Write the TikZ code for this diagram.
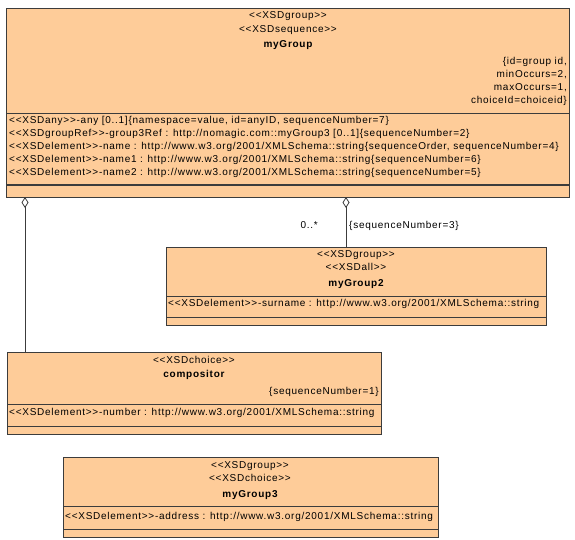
\documentclass[tikz,border=0pt]{standalone}
\usepackage{fontspec}
\setmainfont{Liberation Sans}[LetterSpace=7.4, Ligatures=TeXOff]
\usetikzlibrary{arrows.meta}
\definecolor{boxfill}{RGB}{254,204,153}
\definecolor{linec}{RGB}{60,60,60}
\begin{document}
\begin{tikzpicture}[x=1pt,y=-1pt,
  box/.style={draw=linec, fill=boxfill, line width=0.8pt, inner sep=0pt, outer sep=0pt, anchor=north west},
  sep/.style={draw=linec, line width=0.8pt},
  thicksep/.style={draw=linec, line width=1.8pt},
  txt/.style={inner sep=0pt, text height=7.2pt, text depth=2pt, font=\fontsize{10}{12}\selectfont},
  lt/.style={txt, anchor=west},
  rt/.style={txt, anchor=east},
  ct/.style={txt, anchor=center},
  ttl/.style={txt, anchor=center, font=\fontsize{10}{12}\selectfont\bfseries},
  agg/.style={draw=linec, line width=0.8pt, {Diamond[open, length=11pt, width=7pt]}-}
]
\useasboundingbox (0,0) rectangle (575,539);

% ---------- myGroup ----------
\node[box, minimum width=563pt, minimum height=189pt] (g1) at (6,8) {};
\draw[sep] (g1.west |- 0,113) -- (g1.east |- 0,113);
\draw[thicksep] (g1.west |- 0,185) -- (g1.east |- 0,185);
\node[ct] (g1s1) at (288,16) {<<XSDgroup>>};
\node[ct] (g1s2) at (288,30) {<<XSDsequence>>};
\node[ttl] (g1t) at (288,45) {myGroup};
\node[rt] (g1p1) at (567,62) {\{id=group id,};
\node[rt] (g1p2) at (567,75) {minOccurs=2,};
\node[rt] (g1p3) at (567,88) {maxOccurs=1,};
\node[rt] (g1p4) at (567,101) {choiceId=choiceid\}};
\node[lt] (g1a1) at (9,121) {<<XSDany>>-any [0..1]\{namespace=value, id=anyID, sequenceNumber=7\}};
\node[lt] (g1a2) at (9,134) {<<XSDgroupRef>>-group3Ref : http://nomagic.com::myGroup3 [0..1]\{sequenceNumber=2\}};
\node[lt] (g1a3) at (9,147) {<<XSDelement>>-name : http://www.w3.org/2001/XMLSchema::string\{sequenceOrder, sequenceNumber=4\}};
\node[lt] (g1a4) at (9,160) {<<XSDelement>>-name1 : http://www.w3.org/2001/XMLSchema::string\{sequenceNumber=6\}};
\node[lt] (g1a5) at (9,173) {<<XSDelement>>-name2 : http://www.w3.org/2001/XMLSchema::string\{sequenceNumber=5\}};

% ---------- myGroup2 ----------
\node[box, minimum width=380pt, minimum height=78pt] (g2) at (166,247) {};
\draw[sep] (g2.west |- 0,296) -- (g2.east |- 0,296);
\draw[sep] (g2.west |- 0,317) -- (g2.east |- 0,317);
\node[ct] (g2s1) at (356,255) {<<XSDgroup>>};
\node[ct] (g2s2) at (356,268) {<<XSDall>>};
\node[ttl] (g2t) at (356,284) {myGroup2};
\node[lt] (g2a1) at (168,304) {<<XSDelement>>-surname : http://www.w3.org/2001/XMLSchema::string};

% ---------- compositor ----------
\node[box, minimum width=374pt, minimum height=82pt] (cp) at (7,352) {};
\draw[sep] (cp.west |- 0,404) -- (cp.east |- 0,404);
\draw[sep] (cp.west |- 0,426) -- (cp.east |- 0,426);
\node[ct] (cps1) at (194,361) {<<XSDchoice>>};
\node[ttl] (cpt) at (194,375) {compositor};
\node[rt] (cpp1) at (379,392) {\{sequenceNumber=1\}};
\node[lt] (cpa1) at (9,413) {<<XSDelement>>-number : http://www.w3.org/2001/XMLSchema::string};

% ---------- myGroup3 ----------
\node[box, minimum width=375pt, minimum height=80pt] (g3) at (63,457) {};
\draw[sep] (g3.west |- 0,506) -- (g3.east |- 0,506);
\draw[sep] (g3.west |- 0,529) -- (g3.east |- 0,529);
\node[ct] (g3s1) at (250,466) {<<XSDgroup>>};
\node[ct] (g3s2) at (250,479) {<<XSDchoice>>};
\node[ttl] (g3t) at (250,495) {myGroup3};
\node[lt] (g3a1) at (65,517) {<<XSDelement>>-address : http://www.w3.org/2001/XMLSchema::string};

% ---------- connectors ----------
\coordinate (c1) at (25,0);
\coordinate (c2) at (346,0);
\draw[agg] (c1 |- g1.south) -- (c1 |- cp.north);
\draw[agg] (c2 |- g1.south) -- (c2 |- g2.north);
\node[rt] (m2) at (318,226) {0..*};
\node[lt] (s2) at (349,226) {\{sequenceNumber=3\}};
\end{tikzpicture}
\end{document}
